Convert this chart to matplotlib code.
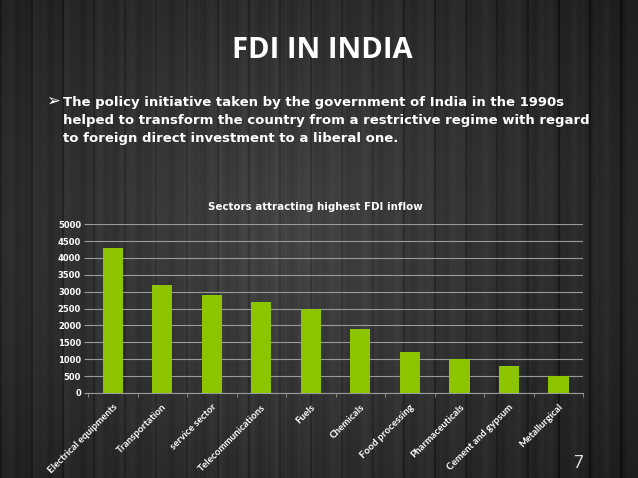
import numpy as np
import matplotlib
matplotlib.use("Agg")
import matplotlib.pyplot as plt

categories = ["Electrical equipments", "Transportation", "service sector",
              "Telecommunications", "Fuels", "Chemicals", "Food processing",
              "Pharmaceuticals", "Cement and gypsum", "Metallurgical"]
values = [4300, 3200, 2900, 2700, 2500, 1900, 1200, 1000, 800, 500]
yticks = [0, 500, 1000, 1500, 2000, 2500, 3000, 3500, 4000, 4500, 5000]

W, H = 638, 478
fig = plt.figure(figsize=(W / 100, H / 100), dpi=100)

# background: dark wood-like vertical planks with vignette (deterministic)
bg = fig.add_axes([0, 0, 1, 1], zorder=0)
xs = np.arange(W)
ys = np.arange(H)
stripe = (0.5 * np.sin(xs * 0.21) + 0.3 * np.sin(xs * 0.57 + 1.3)
          + 0.2 * np.sin(xs * 1.37 + 0.4))
stripe = 0.025 * stripe
seams = np.zeros(W)
for s in range(0, W, 31):
    seams[s:s + 2] = -0.05
X, Y = np.meshgrid(xs, ys)
d = np.sqrt(((X - W * 0.45) / (W * 0.75)) ** 2 + ((Y - H * 0.5) / (H * 0.9)) ** 2)
vign = 0.27 - 0.17 * d
img = vign + stripe[None, :] + seams[None, :]
img = np.clip(img, 0.03, 0.5)
bg.imshow(img, cmap="gray", vmin=0, vmax=1, aspect="auto",
          extent=[0, 1, 0, 1], origin="upper")
bg.set_xlim(0, 1)
bg.set_ylim(0, 1)
bg.axis("off")

fam = ["DejaVu Sans"]
lfam = ["Lato", "DejaVu Sans"]

fig.text(0.505, 0.894, "FDI IN INDIA", color="white", fontsize=21,
         fontweight="bold", family=["Open Sans", "DejaVu Sans"],
         ha="center", va="center")

fig.text(0.072, 0.789, "\u27a2", color="white", fontsize=12,
         family=["DejaVu Sans"], ha="left", va="center")
bullet = ("The policy initiative taken by the government of India in the 1990s\n"
          "helped to transform the country from a restrictive regime with regard\n"
          "to foreign direct investment to a liberal one.")
fig.text(0.099, 0.748, bullet, color="white", fontsize=9.55,
         fontweight="bold", family=fam, ha="left", va="center",
         linespacing=1.5)

ax = fig.add_axes([0.138, 0.178, 0.776, 0.353], zorder=1)
ax.patch.set_alpha(0)
x = np.arange(len(categories))
ax.bar(x, values, width=0.41, color="#8cc400", zorder=3)
ax.set_xlim(-0.5, len(categories) - 0.5)
ax.set_ylim(0, 5000)
ax.set_yticks(yticks)
ax.set_yticklabels([str(v) for v in yticks], color="white", fontsize=6,
                   fontweight="bold", family=fam)
ax.yaxis.grid(True, color="#9a9a9a", linewidth=0.8, zorder=1)
ax.set_axisbelow(True)
ax.tick_params(axis="y", length=3, color="#9a9a9a", pad=2)
ax.set_xticks(x)
ax.set_xticklabels(categories, rotation=45, ha="right",
                   rotation_mode="anchor", color="white", fontsize=7,
                   fontweight="bold", family=lfam)
ax.tick_params(axis="x", length=0, pad=7)
ax.set_xticks(np.arange(len(categories) + 1) - 0.5, minor=True)
ax.tick_params(axis="x", which="minor", length=3, color="#9a9a9a")
for s in ["top", "right", "left"]:
    ax.spines[s].set_visible(False)
ax.spines["bottom"].set_color("#9a9a9a")
ax.spines["bottom"].set_linewidth(0.8)

fig.text(0.494, 0.567, "Sectors attracting highest FDI inflow", color="white",
         fontsize=7.4, fontweight="bold", family=fam, ha="center",
         va="center")

fig.text(0.906, 0.032, "7", color="#e0e0e0", fontsize=12,
         family=lfam, ha="center", va="center")

fig.savefig("out.png", dpi=100)
